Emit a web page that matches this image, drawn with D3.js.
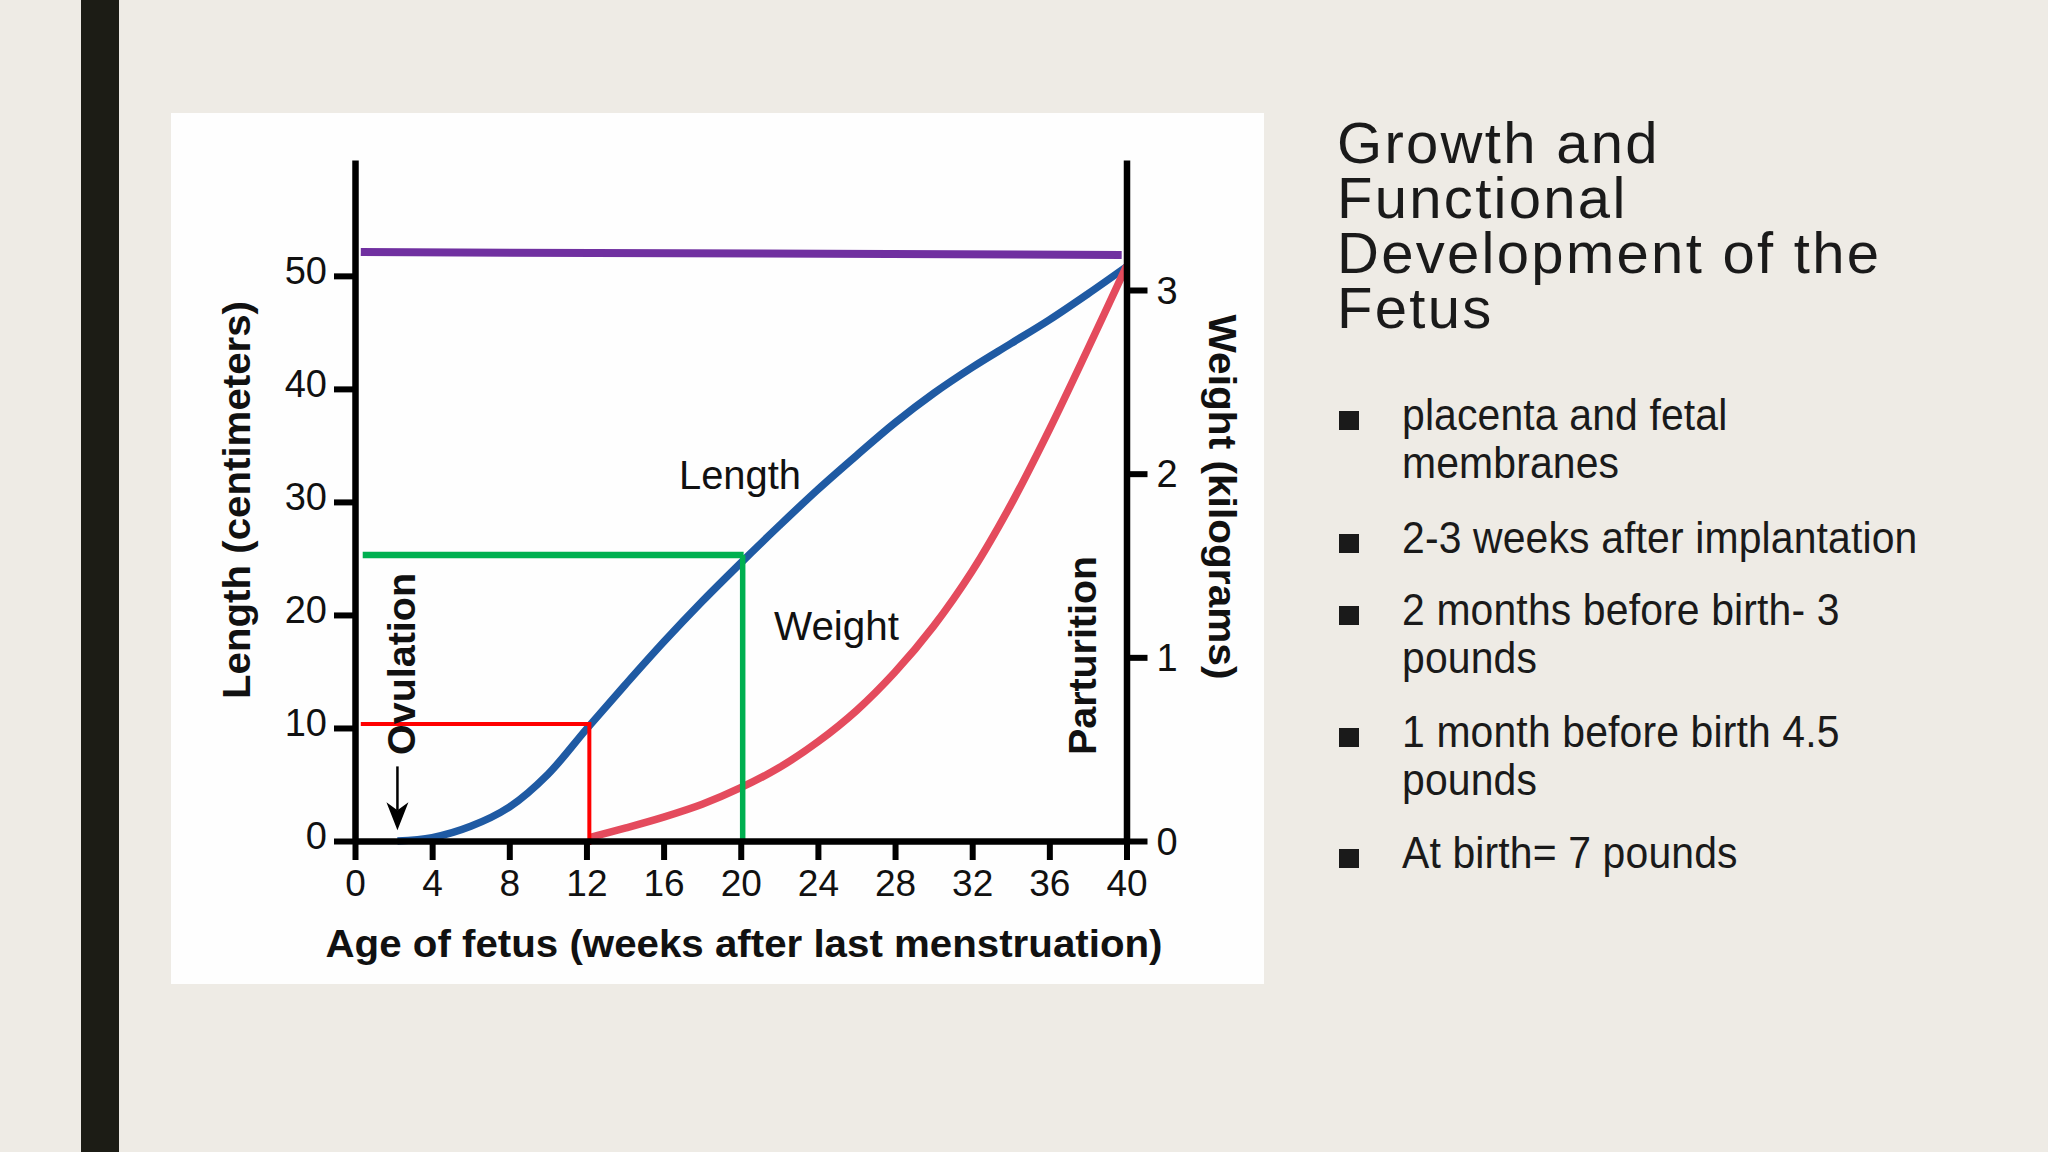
<!DOCTYPE html>
<html>
<head>
<meta charset="utf-8">
<script src="https://cdn.jsdelivr.net/npm/d3@7"></script>
<style>
  html, body { margin: 0; padding: 0; background: #eeebe5; }
  svg { display: block; }
</style>
</head>
<body>
<svg id="chart" width="2048" height="1152"></svg>
<script>
// ---------- DATA ----------
const lengthWeeks = [2.2, 4, 6, 8, 10, 12, 14, 16, 18, 20, 22, 24, 26, 28, 30, 32, 34, 36, 38, 40];
const lengthCm    = [0, 0.3, 1.3, 3.0, 5.9, 9.9, 13.8, 17.6, 21.2, 24.6, 27.9, 31.1, 34.1, 37.0, 39.6, 41.9, 44.0, 46.1, 48.4, 50.8];

const weightWeeks = [12.2, 14, 16, 18, 20, 22, 24, 26, 28, 30, 32, 34, 36, 38, 40];
const weightKg    = [0.02, 0.07, 0.13, 0.20, 0.29, 0.40, 0.54, 0.71, 0.92, 1.17, 1.47, 1.83, 2.24, 2.68, 3.13];

const xTickValues = [0, 4, 8, 12, 16, 20, 24, 28, 32, 36, 40];
const lengthTickValues = [0, 10, 20, 30, 40, 50];
const weightTickValues = [0, 1, 2, 3];

// annotation overlays (weeks / cm)
const termLineWeeks = [0.3, 39.75];
const termLineCm = [52.1, 51.85];
const redMarkWeeks = [0.3, 12.15];
const redMarkCm = 10.35;
const greenMarkWeeks = [0.4, 20.15];
const greenMarkCm = 25.3;
const ovulationWeek = 2.2;
const ovulationArrowCm = [6.6, 0.95];

const labels = {
  xTitle: "Age of fetus (weeks after last menstruation)",
  yLeftTitle: "Length (centimeters)",
  yRightTitle: "Weight (kilograms)",
  length: "Length",
  weight: "Weight",
  ovulation: "Ovulation",
  parturition: "Parturition"
};

const titleLines = ["Growth and", "Functional", "Development of the", "Fetus"];
const bullets = [
  ["placenta and fetal", "membranes"],
  ["2-3 weeks after implantation"],
  ["2 months before birth- 3", "pounds"],
  ["1 month before birth 4.5", "pounds"],
  ["At birth= 7 pounds"]
];

// ---------- DRAW ----------
const svg = d3.select("#chart");
const FONT = "'Liberation Sans', Arial, Helvetica, sans-serif";

svg.append("rect").attr("width", 2048).attr("height", 1152).attr("fill", "#eeebe5");
svg.append("rect").attr("x", 81).attr("y", 0).attr("width", 38).attr("height", 1152).attr("fill", "#1c1c15");
svg.append("rect").attr("x", 171).attr("y", 113).attr("width", 1093).attr("height", 871).attr("fill", "#fefefe");

const x = d3.scaleLinear().domain([0, 40]).range([355, 1126.5]);
const yL = d3.scaleLinear().domain([0, 60.25]).range([841, 160]);
const yW = d3.scaleLinear().domain([0, 3 * 681 / 551]).range([841, 160]);

const g = svg.append("g");

const lenData = lengthWeeks.map((w, i) => [w, lengthCm[i]]);
const wtData = weightWeeks.map((w, i) => [w, weightKg[i]]);

g.append("path")
  .datum(termLineWeeks.map((w, i) => [w, termLineCm[i]]))
  .attr("d", d3.line().x(d => x(d[0])).y(d => yL(d[1])))
  .attr("stroke", "#7030a0").attr("stroke-width", 8).attr("fill", "none");

g.append("path").datum(lenData)
  .attr("d", d3.line().x(d => x(d[0])).y(d => yL(d[1])).curve(d3.curveCatmullRom.alpha(0.5)))
  .attr("stroke", "#1f5aa3").attr("stroke-width", 7.5).attr("fill", "none");

g.append("path").datum(wtData)
  .attr("d", d3.line().x(d => x(d[0])).y(d => yW(d[1])).curve(d3.curveCatmullRom.alpha(0.5)))
  .attr("stroke", "#e44b5d").attr("stroke-width", 7.5).attr("fill", "none");

const lineL = d3.line().x(d => x(d[0])).y(d => yL(d[1]));
g.append("path")
  .datum([[redMarkWeeks[0], redMarkCm], [redMarkWeeks[1], redMarkCm], [redMarkWeeks[1], -0.35]])
  .attr("d", lineL).attr("stroke", "#ff0000").attr("stroke-width", 4).attr("fill", "none");
g.append("path")
  .datum([[greenMarkWeeks[0], greenMarkCm], [greenMarkWeeks[1], greenMarkCm]])
  .attr("d", lineL).attr("stroke", "#00b050").attr("stroke-width", 6.5).attr("fill", "none");
g.append("path")
  .datum([[greenMarkWeeks[1] - 0.05, greenMarkCm], [greenMarkWeeks[1] - 0.05, 0]])
  .attr("d", lineL).attr("stroke", "#00b050").attr("stroke-width", 5.5).attr("fill", "none");

// ovulation arrow
g.append("line")
  .attr("x1", x(ovulationWeek)).attr("x2", x(ovulationWeek))
  .attr("y1", yL(ovulationArrowCm[0])).attr("y2", yL(ovulationArrowCm[1]) - 20)
  .attr("stroke", "#000").attr("stroke-width", 2.5);
{
  const ax = x(ovulationWeek), tip = yL(ovulationArrowCm[1]);
  g.append("path")
    .attr("d", `M${ax},${tip} L${ax - 11},${tip - 28} L${ax},${tip - 20} L${ax + 11},${tip - 28} Z`)
    .attr("fill", "#000");
}

// axes
function styleAxis(sel) {
  sel.selectAll(".domain").attr("stroke", "#000").attr("stroke-width", 6.5);
  sel.selectAll(".tick line").attr("stroke", "#000").attr("stroke-width", 6);
  sel.selectAll(".tick text").attr("fill", "#111").attr("font-family", FONT);
}

const xAxis = g.append("g").attr("transform", `translate(0,${841})`)
  .call(d3.axisBottom(x).tickValues(xTickValues).tickFormat(d3.format("d"))
    .tickSize(19).tickSizeOuter(0).tickPadding(10));
styleAxis(xAxis);
xAxis.selectAll(".tick text").attr("font-size", 37).attr("dy", "0.71em");

const yAxisL = g.append("g").attr("transform", `translate(${355},0)`)
  .call(d3.axisLeft(yL).tickValues(lengthTickValues).tickFormat(d3.format("d"))
    .tickSize(21).tickSizeOuter(0).tickPadding(7));
styleAxis(yAxisL);
yAxisL.selectAll(".tick text").attr("font-size", 38).attr("dy", "0.2em");

const yAxisR = g.append("g").attr("transform", `translate(${1126.5},0)`)
  .call(d3.axisRight(yW).tickValues(weightTickValues).tickFormat(d3.format("d"))
    .tickSize(21).tickSizeOuter(0).tickPadding(9));
styleAxis(yAxisR);
yAxisR.selectAll(".tick text").attr("font-size", 38).attr("dy", "0.35em");

// axis titles
g.append("text").text(labels.xTitle)
  .attr("x", 744).attr("y", 957).attr("text-anchor", "middle")
  .attr("font-family", FONT).attr("font-weight", "bold").attr("font-size", 38)
  .attr("textLength", 837).attr("lengthAdjust", "spacingAndGlyphs").attr("fill", "#111");

g.append("text").text(labels.yLeftTitle)
  .attr("transform", "translate(250,500) rotate(-90)").attr("text-anchor", "middle")
  .attr("font-family", FONT).attr("font-weight", "bold").attr("font-size", 39)
  .attr("textLength", 398).attr("lengthAdjust", "spacingAndGlyphs").attr("fill", "#111");

g.append("text").text(labels.yRightTitle)
  .attr("transform", "translate(1209,497) rotate(90)").attr("text-anchor", "middle")
  .attr("font-family", FONT).attr("font-weight", "bold").attr("font-size", 39)
  .attr("textLength", 365).attr("lengthAdjust", "spacingAndGlyphs").attr("fill", "#111");

g.append("text").text(labels.ovulation)
  .attr("transform", "translate(415,755) rotate(-90)").attr("text-anchor", "start")
  .attr("font-family", FONT).attr("font-weight", "bold").attr("font-size", 39)
  .attr("textLength", 182).attr("lengthAdjust", "spacingAndGlyphs").attr("fill", "#111");

g.append("text").text(labels.parturition)
  .attr("transform", "translate(1096,755) rotate(-90)").attr("text-anchor", "start")
  .attr("font-family", FONT).attr("font-weight", "bold").attr("font-size", 39)
  .attr("textLength", 199).attr("lengthAdjust", "spacingAndGlyphs").attr("fill", "#111");

g.append("text").text(labels.length)
  .attr("x", 679).attr("y", 489)
  .attr("font-family", FONT).attr("font-size", 40)
  .attr("textLength", 122).attr("lengthAdjust", "spacingAndGlyphs").attr("fill", "#111");

g.append("text").text(labels.weight)
  .attr("x", 774).attr("y", 640)
  .attr("font-family", FONT).attr("font-size", 40)
  .attr("textLength", 125).attr("lengthAdjust", "spacingAndGlyphs").attr("fill", "#111");

// ---------- slide text ----------
const SLIDE_FONT = "'Liberation Sans', Arial, sans-serif";
const title = svg.append("g");
titleLines.forEach((t, i) => {
  title.append("text").text(t)
    .attr("x", 1337).attr("y", 163 + i * 55)
    .attr("font-family", SLIDE_FONT).attr("font-size", 58).attr("letter-spacing", 2.3)
    .attr("fill", "#1a1a1a");
});

const bulletBaselines = [[430, 478], [553], [625, 673], [747, 795], [868]];
const bl = svg.append("g");
bullets.forEach((lines, i) => {
  const base = bulletBaselines[i];
  bl.append("rect").attr("x", 1339).attr("y", base[0] - 19).attr("width", 20).attr("height", 19).attr("fill", "#1a1a1a");
  lines.forEach((t, j) => {
    bl.append("text").text(t)
      .attr("transform", `translate(1402,${base[j]}) scale(0.93,1)`)
      .attr("font-family", SLIDE_FONT).attr("font-size", 44)
      .attr("letter-spacing", 0.15)
      .attr("fill", "#1a1a1a");
  });
});
</script>
</body>
</html>
